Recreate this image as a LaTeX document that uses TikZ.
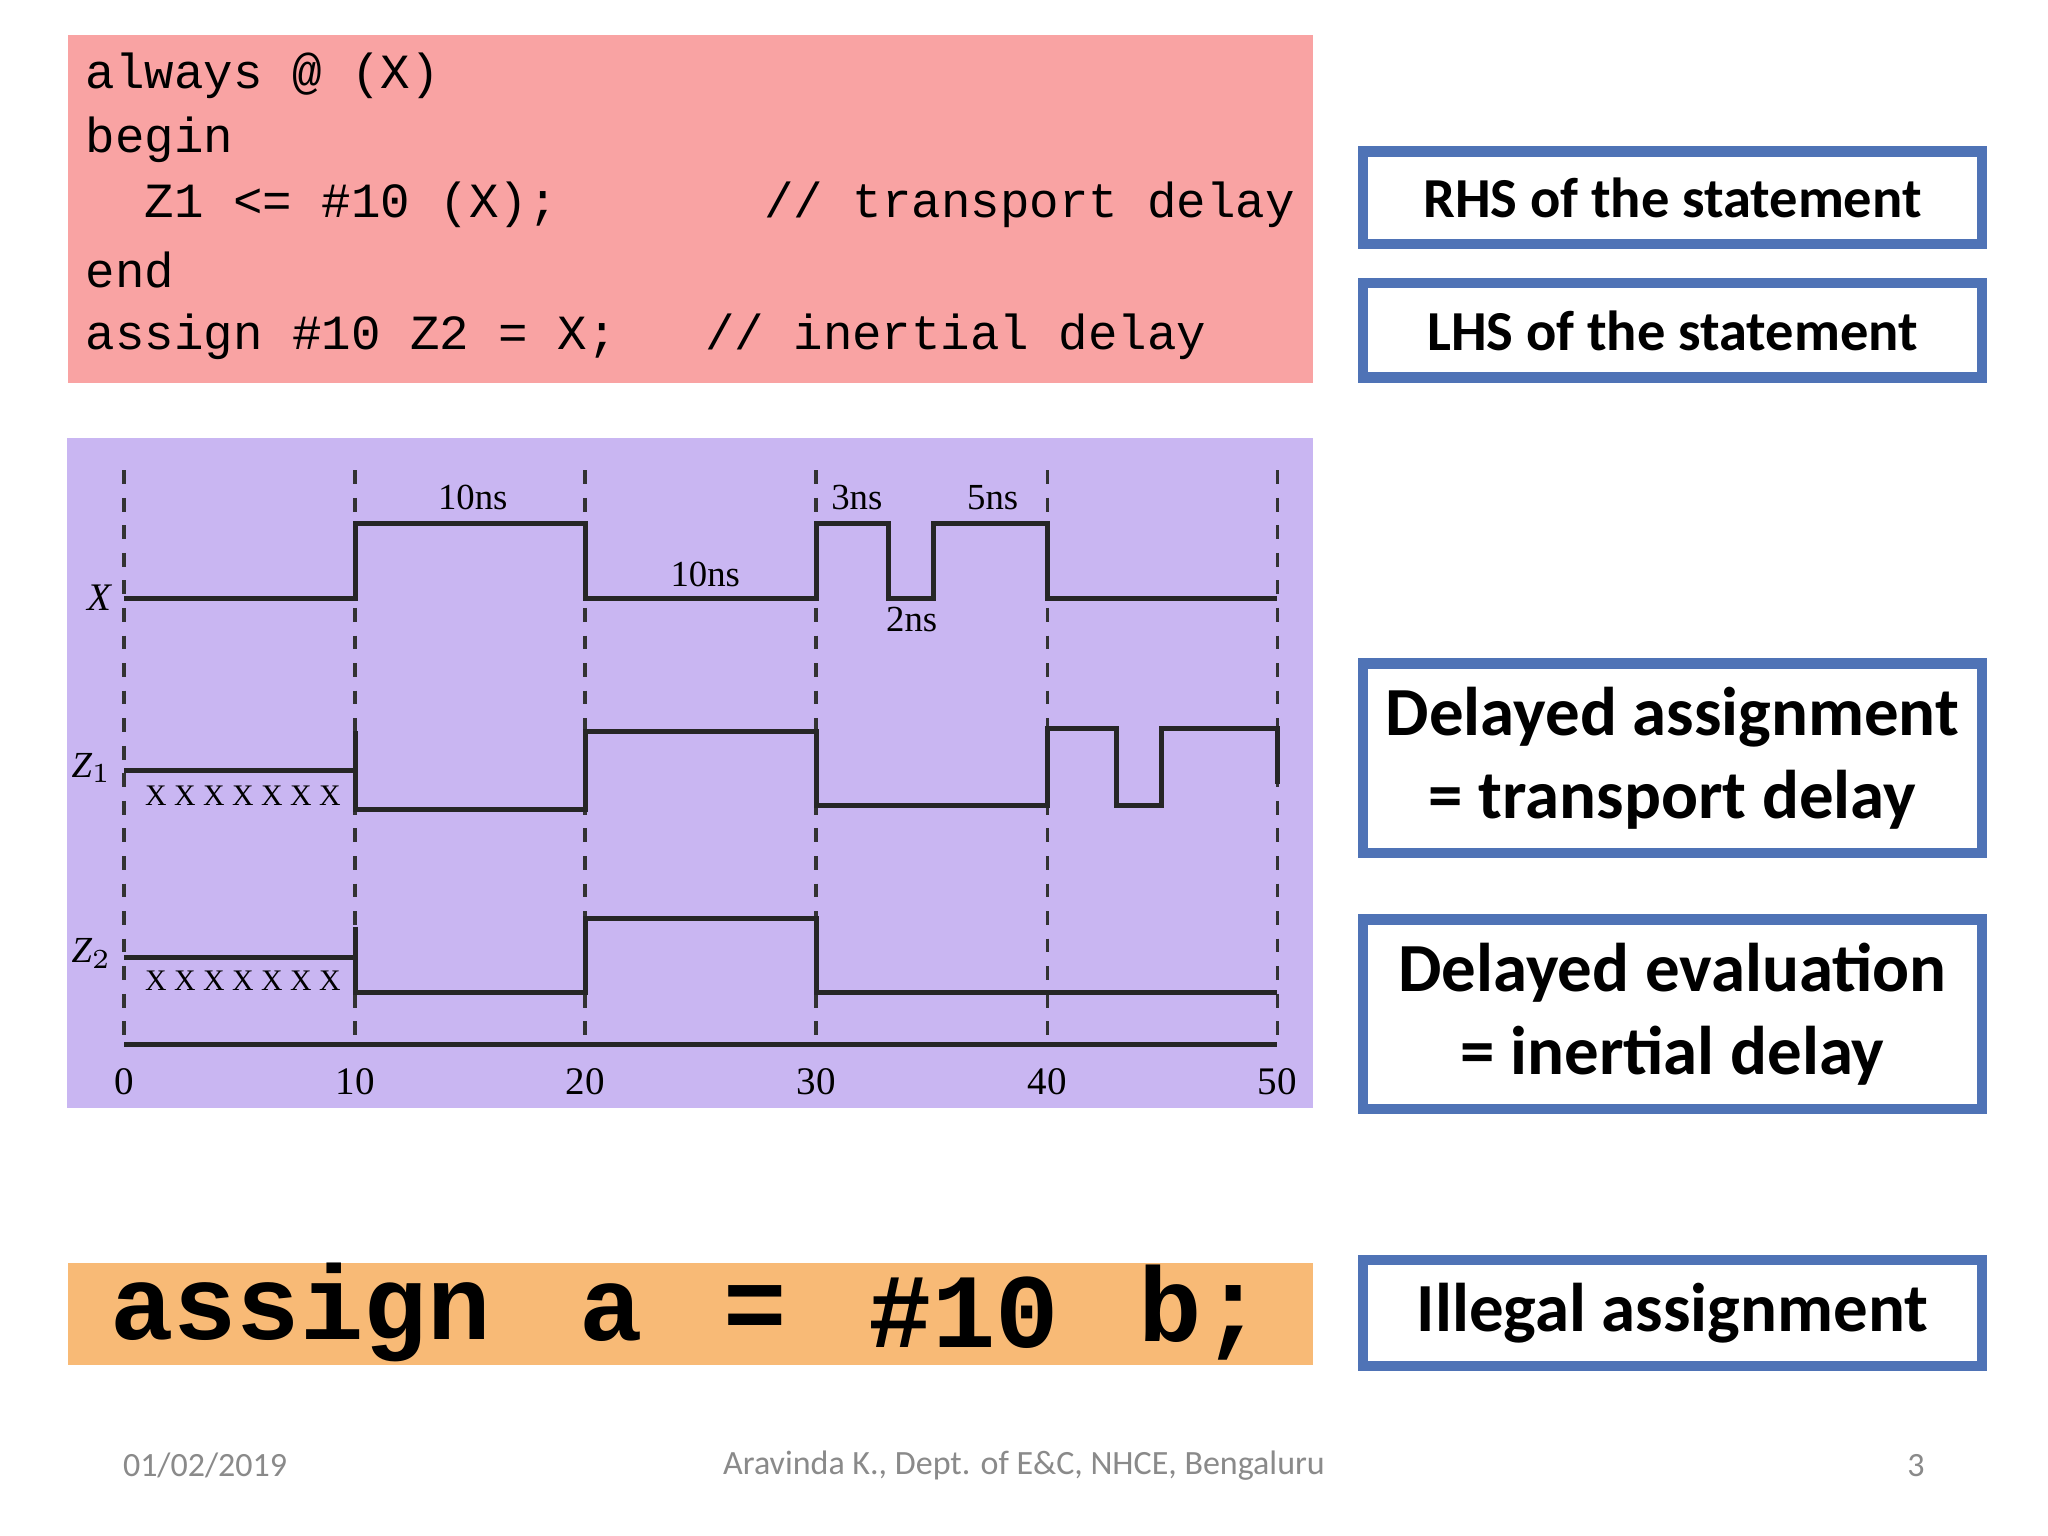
\documentclass[tikz,border=0pt]{standalone}
\usepackage{fontspec}
\setmainfont{Carlito}
\setmonofont{Liberation Mono}
\newfontfamily\wserif{Liberation Serif}
\definecolor{codered}{HTML}{F9A3A3}
\definecolor{wavebg}{HTML}{C9B6F2}
\definecolor{orangebg}{HTML}{F8BA76}
\definecolor{boxblue}{HTML}{4F73B6}
\definecolor{footgray}{HTML}{8A8A8A}
\tikzset{
  code/.style={anchor=west,inner sep=0pt,font=\ttfamily\fontsize{10.7}{10.7}\selectfont},
  infobox/.style={draw=boxblue,line width=2.2pt,fill=white,font=\bfseries\fontsize{12.3}{13}\selectfont,align=center,inner sep=0pt},
  bigbox/.style={infobox,font=\bfseries\fontsize{15}{18}\selectfont},
  wave/.style={line width=1.1pt,black!85},
  grid/.style={dashed,line width=0.8pt,black!80},
  wlab/.style={font=\wserif\fontsize{8}{8}\selectfont,inner sep=0pt},
  big/.style={font=\ttfamily\bfseries\fontsize{23}{23}\selectfont,inner sep=0pt},
  foot/.style={font=\fontsize{7.4}{7.4}\selectfont,text=footgray,inner sep=0pt}
}
\begin{document}
\begin{tikzpicture}[x=0.01cm,y=-0.01cm]
\useasboundingbox (0,0) rectangle (1568,1176);
\fill[white] (0,0) rectangle (1568,1176);
% code box
\fill[codered] (52,27) rectangle (1005,293);
\node[code] (c1) at (65,58) {always @ (X)};
\node[code] (c2) at (65,107) {begin};
\node[code] (c3) at (65,157) {\ \ Z1 <= \#10 (X);\ \ \ \ \ \ \ // transport delay};
\node[code] (c4) at (65,207) {end};
\node[code] (c5) at (65,258) {assign \#10 Z2 = X;\ \ \ // inertial delay};
% waveform box
\fill[wavebg] (51,335) rectangle (1005,848);
\foreach \x/\t in {95/0,272/10,448/20,625/30,802/40,978/50}{
  \draw[grid] (\x,360) -- (\x,800);
  \node[wlab,font=\wserif\fontsize{8.5}{8.5}\selectfont] (t\t) at (\x,828) {\t};
}
\draw[wave] (95,800) -- (978,800);
% X
\draw[wave] (95,458) -- (272,458) -- (272,401) -- (448,401) -- (448,458) -- (625,458) -- (625,401) -- (680,401) -- (680,458) -- (715,458) -- (715,401) -- (802,401) -- (802,458) -- (978,458);
% Z1
\draw[wave] (95,590) -- (272,590);
\draw[wave] (272,560) -- (272,620) -- (448,620) -- (448,560) -- (625,560) -- (625,617) -- (802,617) -- (802,558) -- (855,558) -- (855,617) -- (889,617) -- (889,558) -- (978,558) -- (978,600);
% Z2
\draw[wave] (95,733) -- (272,733);
\draw[wave] (272,710) -- (272,760) -- (448,760) -- (448,703) -- (625,703) -- (625,760) -- (978,760);
\node[wlab,font=\wserif\fontsize{6.5}{6.5}\selectfont] (xx1) at (186,609) {X X X X X X X};
\node[wlab,font=\wserif\fontsize{6.5}{6.5}\selectfont] (xx2) at (186,751) {X X X X X X X};
\node[wlab,font=\wserif\itshape\fontsize{8.5}{8.5}\selectfont] (lx) at (76,458) {X};
\node[wlab,font=\wserif\itshape\fontsize{8}{8}\selectfont] (lz1) at (70,588) {Z$_1$};
\node[wlab,font=\wserif\itshape\fontsize{8}{8}\selectfont] (lz2) at (70,730) {Z$_2$};
\node[wlab] (l10a) at (362,381) {10ns};
\node[wlab] (l10b) at (540,440) {10ns};
\node[wlab] (l3) at (656,381) {3ns};
\node[wlab] (l5) at (760,381) {5ns};
\node[wlab] (l2) at (698,474) {2ns};
% orange
\fill[orangebg] (52,967) rectangle (1005,1045);
\node[big] (o1) at (230,1005) {assign};
\node[big] (o2) at (468,1005) {a};
\node[big] (o3) at (578,1005) {=};
\node[big] (o4) at (738,1005) {\#10};
\node[big] (o5) at (920,1005) {b;};
% right boxes
\node[infobox,minimum width=4.73cm,minimum height=0.71cm] (b1) at (1280.5,151.5) {RHS of the statement};
\node[infobox,minimum width=4.73cm,minimum height=0.72cm] (b2) at (1280.5,253) {LHS of the statement};
\node[bigbox,minimum width=4.73cm,minimum height=1.45cm] (b3) at (1280.5,580.5) {Delayed assignment\\= transport delay};
\node[bigbox,minimum width=4.73cm,minimum height=1.45cm] (b4) at (1280.5,776.5) {Delayed evaluation\\= inertial delay};
\node[bigbox,minimum width=4.73cm,minimum height=0.81cm] (b5) at (1280.5,1005.5) {Illegal assignment};
% footer
\node[foot] (f1) at (157,1122) {01/02/2019};
\node[foot] (f2) at (784,1122) {Aravinda K., Dept. of E\&C, NHCE, Bengaluru};
\node[foot] (f3) at (1467,1122) {3};
\end{tikzpicture}
\end{document}
